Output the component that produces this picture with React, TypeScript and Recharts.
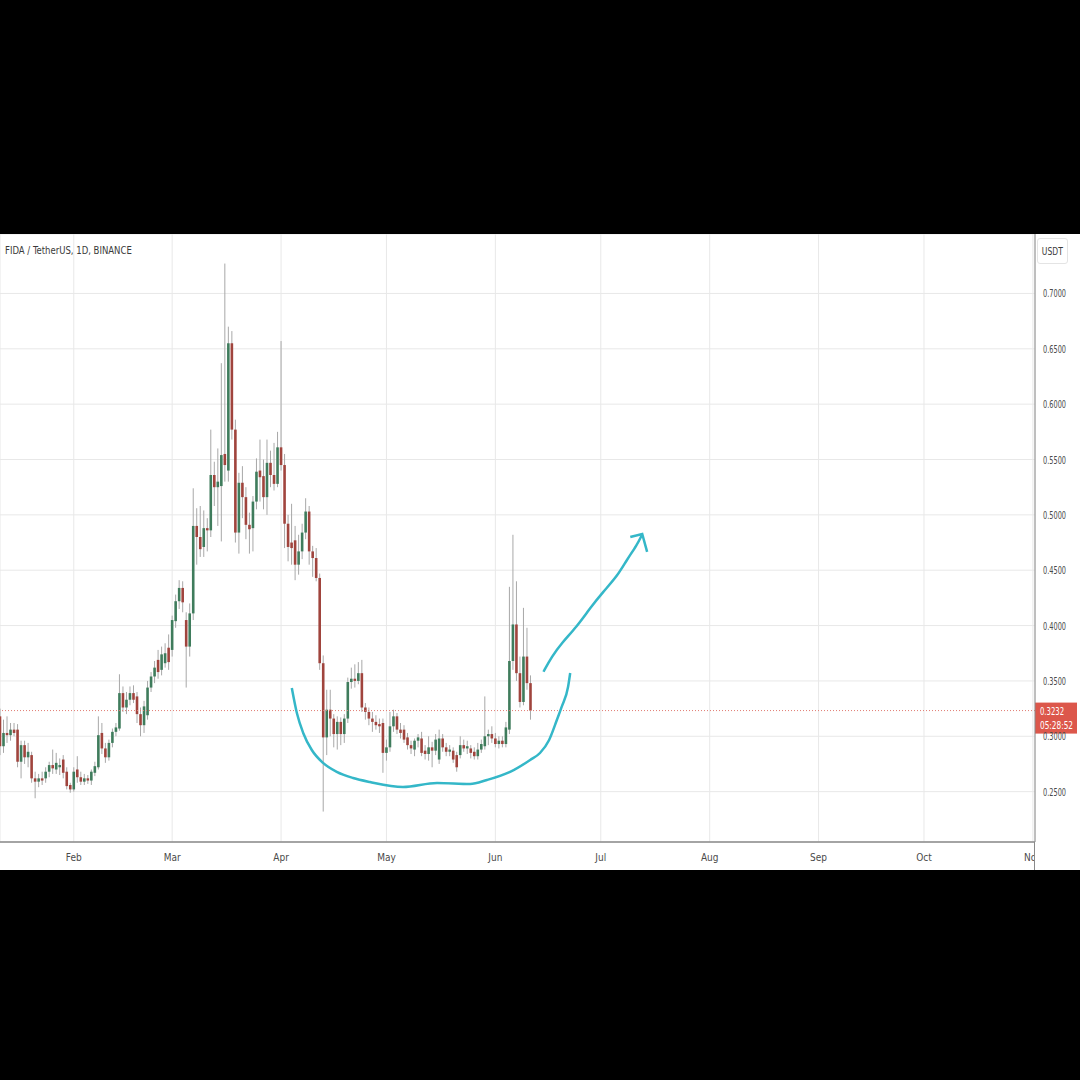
import React from 'react';
import { ComposedChart, Bar, Line, XAxis, YAxis, CartesianGrid, ReferenceLine } from 'recharts';

// day index (0 = Jan 1)
const days = [10, 11, 12, 13, 14, 15, 16, 17, 18, 19, 20, 21, 22, 23, 24, 25, 26, 27, 28, 29, 30, 31, 32, 33, 34, 35, 36, 37, 38, 39, 40, 41, 42, 43, 44, 45, 46, 47, 48, 49, 50, 51, 52, 53, 54, 55, 56, 57, 58, 59, 60, 61, 62, 63, 64, 65, 66, 67, 68, 69, 70, 71, 72, 73, 74, 75, 76, 77, 78, 79, 80, 81, 82, 83, 84, 85, 86, 87, 88, 89, 90, 91, 92, 93, 94, 95, 96, 97, 98, 99, 100, 101, 102, 103, 104, 105, 106, 107, 108, 109, 110, 111, 112, 113, 114, 115, 116, 117, 118, 119, 120, 121, 122, 123, 124, 125, 126, 127, 128, 129, 130, 131, 132, 133, 134, 135, 136, 137, 138, 139, 140, 141, 142, 143, 144, 145, 146, 147, 148, 149, 150, 151, 152, 153, 154, 155, 156, 157, 158, 159, 160, 161];
const opens = [0.318, 0.291, 0.303, 0.301, 0.306, 0.306, 0.277, 0.292, 0.281, 0.283, 0.262, 0.259, 0.262, 0.262, 0.268, 0.274, 0.270, 0.272, 0.279, 0.268, 0.256, 0.252, 0.270, 0.263, 0.259, 0.262, 0.260, 0.267, 0.272, 0.303, 0.289, 0.281, 0.294, 0.304, 0.307, 0.339, 0.326, 0.333, 0.339, 0.336, 0.320, 0.310, 0.319, 0.344, 0.354, 0.369, 0.360, 0.366, 0.380, 0.378, 0.404, 0.422, 0.434, 0.405, 0.381, 0.411, 0.490, 0.480, 0.471, 0.488, 0.486, 0.536, 0.525, 0.526, 0.555, 0.540, 0.655, 0.577, 0.484, 0.529, 0.516, 0.491, 0.488, 0.512, 0.540, 0.535, 0.516, 0.547, 0.536, 0.528, 0.561, 0.545, 0.492, 0.475, 0.477, 0.455, 0.467, 0.484, 0.503, 0.467, 0.461, 0.443, 0.366, 0.299, 0.324, 0.316, 0.302, 0.313, 0.302, 0.316, 0.349, 0.352, 0.350, 0.357, 0.326, 0.322, 0.316, 0.313, 0.311, 0.312, 0.285, 0.290, 0.309, 0.318, 0.306, 0.306, 0.299, 0.292, 0.288, 0.296, 0.298, 0.287, 0.284, 0.290, 0.287, 0.279, 0.298, 0.290, 0.286, 0.287, 0.283, 0.283, 0.292, 0.289, 0.289, 0.286, 0.282, 0.288, 0.291, 0.300, 0.302, 0.298, 0.293, 0.296, 0.293, 0.306, 0.368, 0.401, 0.357, 0.331, 0.372, 0.348];
const highs = [0.325, 0.315, 0.318, 0.312, 0.312, 0.311, 0.296, 0.296, 0.294, 0.286, 0.268, 0.266, 0.268, 0.272, 0.277, 0.288, 0.285, 0.280, 0.283, 0.272, 0.258, 0.272, 0.282, 0.268, 0.266, 0.265, 0.270, 0.277, 0.318, 0.312, 0.294, 0.297, 0.307, 0.312, 0.356, 0.345, 0.340, 0.345, 0.346, 0.340, 0.326, 0.332, 0.350, 0.358, 0.368, 0.378, 0.381, 0.384, 0.392, 0.409, 0.428, 0.441, 0.440, 0.412, 0.420, 0.524, 0.506, 0.508, 0.504, 0.497, 0.577, 0.548, 0.560, 0.637, 0.727, 0.670, 0.666, 0.586, 0.538, 0.544, 0.525, 0.502, 0.517, 0.551, 0.568, 0.550, 0.568, 0.558, 0.565, 0.575, 0.657, 0.555, 0.500, 0.510, 0.490, 0.482, 0.492, 0.515, 0.508, 0.472, 0.470, 0.447, 0.373, 0.342, 0.342, 0.320, 0.318, 0.317, 0.320, 0.353, 0.362, 0.365, 0.367, 0.369, 0.330, 0.326, 0.322, 0.319, 0.316, 0.316, 0.297, 0.322, 0.324, 0.321, 0.312, 0.310, 0.303, 0.296, 0.298, 0.302, 0.304, 0.292, 0.300, 0.295, 0.302, 0.306, 0.302, 0.294, 0.292, 0.290, 0.286, 0.300, 0.297, 0.296, 0.292, 0.290, 0.294, 0.297, 0.336, 0.306, 0.309, 0.303, 0.300, 0.300, 0.313, 0.435, 0.482, 0.440, 0.372, 0.416, 0.398, 0.355];
const lows = [0.283, 0.285, 0.294, 0.296, 0.300, 0.272, 0.262, 0.275, 0.272, 0.258, 0.244, 0.254, 0.256, 0.258, 0.263, 0.266, 0.266, 0.265, 0.262, 0.252, 0.249, 0.250, 0.258, 0.256, 0.256, 0.257, 0.256, 0.264, 0.270, 0.284, 0.276, 0.278, 0.290, 0.300, 0.305, 0.322, 0.320, 0.328, 0.330, 0.312, 0.300, 0.303, 0.315, 0.340, 0.348, 0.352, 0.355, 0.362, 0.360, 0.372, 0.398, 0.415, 0.412, 0.344, 0.372, 0.405, 0.455, 0.462, 0.462, 0.467, 0.480, 0.508, 0.490, 0.476, 0.530, 0.530, 0.568, 0.475, 0.465, 0.497, 0.478, 0.465, 0.467, 0.505, 0.512, 0.505, 0.500, 0.525, 0.522, 0.525, 0.540, 0.470, 0.458, 0.455, 0.441, 0.446, 0.460, 0.478, 0.455, 0.444, 0.440, 0.360, 0.232, 0.283, 0.300, 0.290, 0.288, 0.292, 0.294, 0.312, 0.343, 0.344, 0.347, 0.322, 0.315, 0.310, 0.304, 0.306, 0.303, 0.267, 0.278, 0.286, 0.304, 0.302, 0.298, 0.294, 0.288, 0.284, 0.282, 0.290, 0.282, 0.279, 0.278, 0.272, 0.283, 0.275, 0.286, 0.282, 0.282, 0.276, 0.268, 0.280, 0.286, 0.284, 0.280, 0.279, 0.279, 0.285, 0.288, 0.292, 0.294, 0.290, 0.289, 0.290, 0.290, 0.302, 0.360, 0.350, 0.326, 0.328, 0.342, 0.315];
const closes = [0.291, 0.303, 0.301, 0.306, 0.303, 0.277, 0.292, 0.281, 0.286, 0.262, 0.259, 0.262, 0.260, 0.268, 0.274, 0.271, 0.276, 0.274, 0.267, 0.255, 0.252, 0.268, 0.263, 0.259, 0.262, 0.260, 0.268, 0.273, 0.301, 0.289, 0.281, 0.294, 0.304, 0.308, 0.339, 0.326, 0.333, 0.339, 0.333, 0.320, 0.310, 0.327, 0.344, 0.354, 0.362, 0.358, 0.374, 0.375, 0.367, 0.405, 0.422, 0.434, 0.421, 0.381, 0.411, 0.490, 0.480, 0.469, 0.488, 0.486, 0.536, 0.525, 0.530, 0.554, 0.545, 0.655, 0.577, 0.484, 0.529, 0.516, 0.491, 0.487, 0.512, 0.539, 0.534, 0.516, 0.547, 0.536, 0.528, 0.561, 0.545, 0.492, 0.471, 0.470, 0.455, 0.467, 0.484, 0.503, 0.467, 0.461, 0.443, 0.366, 0.299, 0.324, 0.316, 0.302, 0.313, 0.302, 0.316, 0.349, 0.352, 0.350, 0.357, 0.326, 0.322, 0.316, 0.313, 0.310, 0.309, 0.285, 0.290, 0.309, 0.318, 0.306, 0.303, 0.297, 0.292, 0.289, 0.296, 0.299, 0.285, 0.284, 0.290, 0.287, 0.297, 0.298, 0.290, 0.286, 0.288, 0.279, 0.272, 0.292, 0.289, 0.291, 0.285, 0.282, 0.288, 0.293, 0.300, 0.302, 0.298, 0.293, 0.296, 0.293, 0.308, 0.368, 0.401, 0.357, 0.331, 0.372, 0.348, 0.3232];

const monthTicks = [31, 59, 90, 120, 151, 181, 212, 243, 273, 304];
const monthLabels = ['Feb', 'Mar', 'Apr', 'May', 'Jun', 'Jul', 'Aug', 'Sep', 'Oct', 'Nov'];
const priceTicks = [0.25, 0.3, 0.35, 0.4, 0.45, 0.5, 0.55, 0.6, 0.65, 0.7];
const xDomain = [10, 304.6];
const yDomain = [0.2045, 0.7537];
const lastPrice = 0.3232;
const countdown = '05:28:52';
const title = 'FIDA / TetherUS, 1D, BINANCE';
const currency = 'USDT';

// hand-drawn annotation, in (day, price) units
const curveDays = [93.06, 94.5, 96.3, 98.75, 101.96, 105.86, 110.5, 115.3, 124.7, 134.4, 143.8, 148.6, 155.2, 160.9, 163.7, 166.3, 168.5, 169.9, 171.7, 172.3];
const curvePrices = [0.3436, 0.321, 0.303, 0.2876, 0.2759, 0.2678, 0.2623, 0.2587, 0.2542, 0.2578, 0.2569, 0.2605, 0.2678, 0.2786, 0.2849, 0.2967, 0.3147, 0.3267, 0.3448, 0.3572];
const arrowDays = [164.7, 167.05, 169.9, 174.2, 178.0, 181.7, 185.6, 188.4, 191.3, 192.7];
const arrowPrices = [0.3583, 0.3719, 0.3843, 0.399, 0.4159, 0.4306, 0.4442, 0.4593, 0.4728, 0.4818];
const headDays = [189.4, 192.8, 194.2];
const headPrices = [0.48, 0.4827, 0.4665];

const candles = days.map((d, i) => ({ d, o: opens[i], h: highs[i], l: lows[i], c: closes[i] }));
const curve = curveDays.map((d, i) => ({ d, p: curvePrices[i] }));
const arrow = arrowDays.map((d, i) => ({ d, p: arrowPrices[i] }));
const head = headDays.map((d, i) => ({ d, p: headPrices[i] }));

const UP = '#3f7c5c';
const DOWN = '#a0443d';
const WICK = '#a8a8a8';
const CYAN = '#34b7c8';
const FONT = '"Liberation Sans Narrow", "DejaVu Sans Condensed", "Liberation Sans", sans-serif';

const Candle = (props: any) => {
  const { x, y, width, height, payload } = props;
  if (!payload || height == null) return null;
  const { o, h, l, c } = payload;
  const top = Math.min(y, y + height);
  const span = Math.abs(height);
  const k = h - l > 0 ? span / (h - l) : 0;
  const cx = x + width / 2;
  const yO = top + (h - o) * k;
  const yC = top + (h - c) * k;
  const bodyTop = Math.min(yO, yC);
  const bodyH = Math.max(Math.abs(yC - yO), 1);
  const bw = 2.6;
  return (
    <g>
      <line x1={cx} x2={cx} y1={top} y2={top + span} stroke={WICK} strokeWidth={1} />
      <rect x={cx - bw / 2} y={bodyTop} width={bw} height={bodyH} fill={c >= o ? UP : DOWN} />
    </g>
  );
};

const MonthTick = (props: any) => {
  const { x, y, payload, index } = props;
  const label = monthLabels[monthTicks.indexOf(payload.value)] ?? '';
  const isLast = index === monthTicks.length - 1;
  return (
    <g>
      {isLast && (
        <defs>
          <clipPath id="lastTickClip">
            <rect x={x - 40} y={y - 5} width={41.5} height={30} />
          </clipPath>
        </defs>
      )}
      <text
        x={x}
        y={y}
        dy={15}
        textAnchor="middle"
        fill="#4a4a4a"
        fontSize={10}
        fontFamily={FONT}
        clipPath={isLast ? 'url(#lastTickClip)' : undefined}
      >
        {label}
      </text>
    </g>
  );
};

const PriceTick = (props: any) => {
  const { x, y, payload } = props;
  return (
    <text x={x} y={y} dy={4} textAnchor="start" fill="#4a4a4a" fontSize={10} fontFamily={FONT} textLength={23} lengthAdjust="spacingAndGlyphs">
      {Number(payload.value).toFixed(4)}
    </text>
  );
};

const PriceTag = (props: any) => {
  const vb = props.viewBox;
  if (!vb) return null;
  const x0 = vb.x + vb.width;
  const y0 = vb.y;
  return (
    <g>
      <rect x={x0} y={y0 - 8} width={42} height={31} fill="#dc574b" />
      <text x={x0 + 5} y={y0 + 4} fill="#ffffff" fontSize={10} fontFamily={FONT} textLength={24} lengthAdjust="spacingAndGlyphs">
        {lastPrice.toFixed(4)}
      </text>
      <text x={x0 + 5} y={y0 + 18} fill="#ffffff" fontSize={10} fontFamily={FONT} textLength={33} lengthAdjust="spacingAndGlyphs">
        {countdown}
      </text>
    </g>
  );
};

export default function App() {
  return (
    <div style={{ position: 'absolute', left: 0, top: 0, width: 1080, height: 1080, background: '#000', overflow: 'hidden' }}>
      <div style={{ position: 'absolute', left: 0, top: 234, width: 1080, height: 636, background: '#fff' }}>
        <ComposedChart
          width={1080}
          height={636}
          data={candles}
          margin={{ top: 0, right: 0, bottom: 0, left: 0 }}
          style={{ fontFamily: FONT }}
        >
          <CartesianGrid stroke="#e8e8e8" strokeWidth={1} />
          <XAxis
            dataKey="d"
            type="number"
            domain={xDomain}
            allowDataOverflow
            ticks={monthTicks}
            interval={0}
            height={28}
            tickLine={false}
            tickSize={0}
            tickMargin={4}
            axisLine={{ stroke: '#8a8a8a', strokeWidth: 1.5 }}
            tick={<MonthTick />}
          />
          <YAxis
            orientation="right"
            type="number"
            domain={yDomain}
            allowDataOverflow
            ticks={priceTicks}
            interval={0}
            width={45}
            tickLine={false}
            tickSize={0}
            tickMargin={8}
            axisLine={{ stroke: '#8a8a8a', strokeWidth: 1 }}
            tick={<PriceTick />}
          />
          <ReferenceLine
            y={lastPrice}
            stroke="#e07a70"
            strokeDasharray="1 2"
            strokeWidth={1}
            ifOverflow="extendDomain"
            label={<PriceTag />}
          />
          <Bar
            dataKey={(r: any) => [r.l, r.h]}
            barSize={3}
            shape={<Candle />}
            isAnimationActive={false}
          />
          <Line data={curve} dataKey="p" type="monotone" stroke={CYAN} strokeWidth={2.5} dot={false} isAnimationActive={false} />
          <Line data={arrow} dataKey="p" type="basis" stroke={CYAN} strokeWidth={2.5} dot={false} isAnimationActive={false} />
          <Line data={head} dataKey="p" type="linear" stroke={CYAN} strokeWidth={2.5} dot={false} isAnimationActive={false} />
        </ComposedChart>
        <div
          style={{
            position: 'absolute',
            left: 5,
            top: 10,
            fontFamily: FONT,
            fontSize: 11,
            color: '#3a3a3a',
            whiteSpace: 'nowrap',
            transform: 'scaleX(0.86)',
            transformOrigin: 'left center',
          }}
        >
          {title}
        </div>
        <div
          style={{
            position: 'absolute',
            left: 1037,
            top: 4,
            width: 31,
            height: 26,
            border: '1px solid #e4e4e4',
            borderRadius: 3,
            boxSizing: 'border-box',
            fontFamily: FONT,
            fontSize: 10,
            color: '#3a3a3a',
            display: 'flex',
            alignItems: 'center',
            justifyContent: 'center',
          }}
        >
          <span style={{ display: 'inline-block', transform: 'scaleX(0.85)' }}>{currency}</span>
        </div>
        <div style={{ position: 'absolute', left: 1034, top: 608, width: 1, height: 28, background: '#8a8a8a' }} />
      </div>
    </div>
  );
}
